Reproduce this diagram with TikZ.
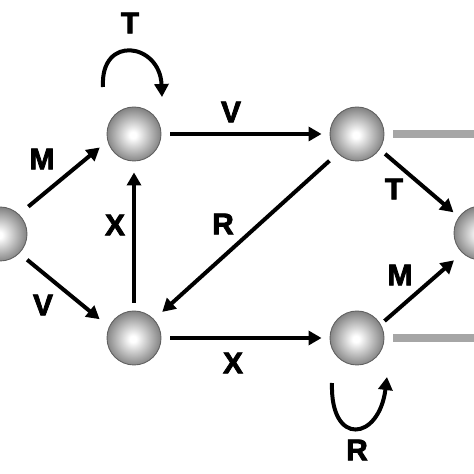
\documentclass[tikz,border=0pt]{standalone}
\usepackage{fontspec}
\setmainfont{Liberation Sans}
\newfontfamily\lblfont{Liberation Sans}[BoldFeatures={FakeBold=2.6}]
\usetikzlibrary{arrows.meta,calc}
\pgfdeclareradialshading{sphere}{\pgfpoint{-1bp}{-1bp}}{color(0bp)=(white); color(3bp)=(white); color(25bp)=(black!48); color(50bp)=(black!48)}
\begin{document}
\begin{tikzpicture}[x=1pt,y=1pt,
  ball/.style={circle, minimum size=54pt, inner sep=0pt, shade, shading=sphere, draw=black!62, line width=0.9pt},
  arr/.style={line width=4pt, -{Triangle[length=13pt,width=14pt]}},
  lbl/.style={font=\fontsize{30}{30}\lblfont\bfseries, inner sep=0pt},
  bar/.style={line width=8.5pt, draw=black!35}
]
\useasboundingbox (0,0) rectangle (474,474);
\clip (0,0) rectangle (474,474);
% spheres
\node[ball] (L)  at (0,240) {};
\node[ball] (TL) at (134,340) {};
\node[ball] (BL) at (134,136) {};
\node[ball] (TR) at (357,340) {};
\node[ball] (BR) at (357,136) {};
\node[ball] (R)  at (481,241) {};
% grey bars
\coordinate (e1) at (474,340);
\coordinate (e2) at (474,136);
\draw[bar, shorten <=9pt] (TR.east) -- (e1);
\draw[bar, shorten <=9pt] (BR.east) -- (e2);
% arrows
\draw[arr, shorten <=12pt, shorten >=10pt] (L.46) -- (TL.195);
\draw[arr, shorten <=10pt, shorten >=12pt] (L.-45) -- (BL.156);
\draw[arr, shorten <=8pt, shorten >=11pt] (BL.90) -- (TL.270);
\draw[arr, shorten <=9pt, shorten >=8pt] (TL.east) -- (TR.west);
\draw[arr, shorten <=9pt, shorten >=8pt] (BL.east) -- (BR.west);
\draw[arr, shorten <=11pt, shorten >=11pt] (TR.225) -- (BL.43);
\draw[arr, shorten <=7pt, shorten >=7pt] (TR.-34) -- (R.144);
\draw[arr, shorten <=5pt, shorten >=11pt] (BR.30) -- (R.227);
% self loops
\coordinate (t1) at (103,387);
\coordinate (t2) at (162,377);
\draw[arr] (t1) .. controls +(-3,53) and +(-2,54) .. (t2);
\coordinate (r1) at (332,91);
\coordinate (r2) at (387,97);
\draw[arr] (r1) .. controls +(-2,-64) and +(-8,-64) .. (r2);
% labels
\node[lbl] (lM1) at (42,315) {M};
\node[lbl] (lV1) at (43,169) {V};
\node[lbl] (lX1) at (115,249) {X};
\node[lbl] (lV2) at (231,362) {V};
\node[lbl] (lX2) at (233,111) {X};
\node[lbl] (lR1) at (223,250) {R};
\node[lbl] (lT2) at (394,285) {T};
\node[lbl] (lM2) at (400,199) {M};
\node[lbl] (lT1) at (130,451) {T};
\node[lbl] (lR2) at (357,24) {R};
\end{tikzpicture}
\end{document}
